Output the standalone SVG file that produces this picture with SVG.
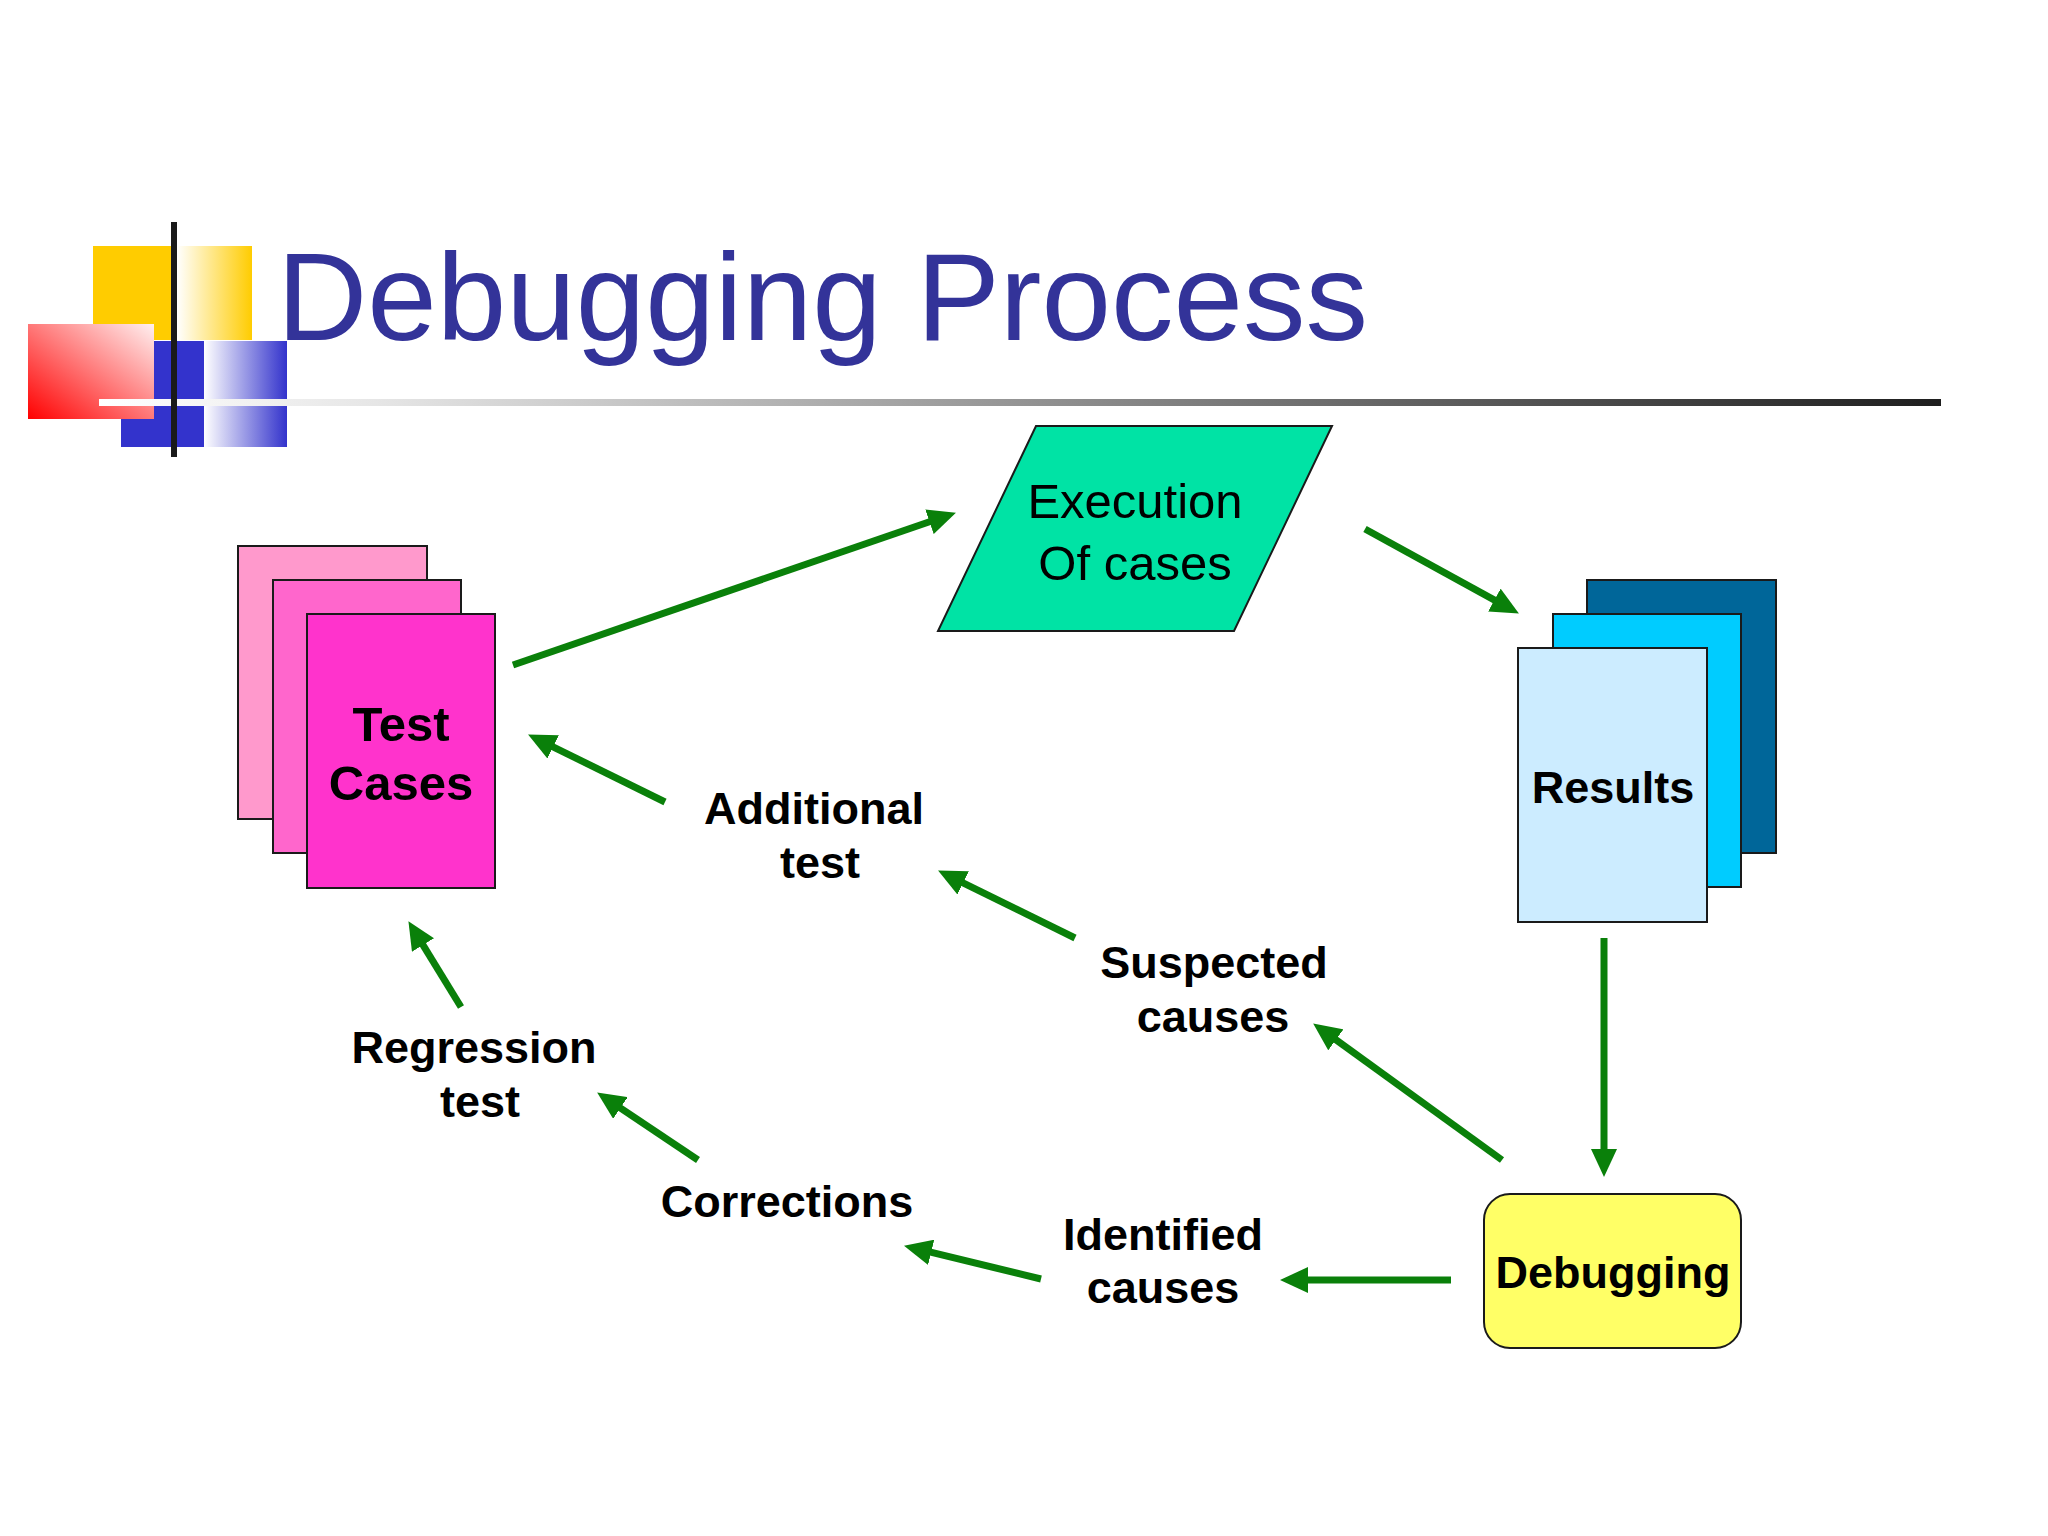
<svg xmlns="http://www.w3.org/2000/svg" width="2048" height="1536" viewBox="0 0 2048 1536">
<defs>
<linearGradient id="gYel" x1="0" y1="0" x2="1" y2="0"><stop offset="0" stop-color="#FFFFFF"/><stop offset="1" stop-color="#FFCC00"/></linearGradient>
<linearGradient id="gBlu" x1="0" y1="0" x2="1" y2="0"><stop offset="0" stop-color="#FFFFFF"/><stop offset="1" stop-color="#3333CC"/></linearGradient>
<linearGradient id="gRed" x1="0" y1="1" x2="1" y2="0"><stop offset="0" stop-color="#FF0000"/><stop offset="1" stop-color="#FFF0F0"/></linearGradient>
<linearGradient id="gLine" gradientUnits="userSpaceOnUse" x1="99" y1="0" x2="1941" y2="0"><stop offset="0" stop-color="#FFFFFF"/><stop offset="0.15" stop-color="#E6E6E6"/><stop offset="1" stop-color="#1E1E1E"/></linearGradient>
<marker id="ah" markerUnits="userSpaceOnUse" markerWidth="28" markerHeight="26" refX="7" refY="13" orient="auto"><path d="M0,0 L28,13 L0,26 z" fill="#0A800A"/></marker>
<style>
.lbl{font-family:"Liberation Sans",Arial,sans-serif;font-weight:bold;font-size:45px;fill:#000;text-anchor:middle}
.pg{stroke:#1A1A1A;stroke-width:2}
.cn{stroke:#0A800A;stroke-width:7;fill:none;marker-end:url(#ah)}
</style>
</defs>
<rect width="2048" height="1536" fill="#FFFFFF"/>
<g id="logo">
<rect x="93" y="246" width="84" height="94" fill="#FFCC00"/>
<rect x="177" y="246" width="75" height="94" fill="url(#gYel)"/>
<rect x="121" y="341" width="83" height="106" fill="#3333CC"/>
<rect x="204" y="341" width="83" height="106" fill="url(#gBlu)"/>
<rect x="28" y="324" width="126" height="95" fill="url(#gRed)"/>
<rect x="99" y="399" width="1842" height="7" fill="url(#gLine)"/>
<rect x="171" y="222" width="6" height="235" fill="#1A1A1A"/>
</g>
<g id="title"><text x="277" y="340" font-family="Liberation Sans, Arial, sans-serif" font-size="125" fill="#333399">Debugging Process</text></g>
<g id="test-cases">
<rect class="pg" x="238" y="546" width="189" height="273" fill="#FF99CC"/>
<rect class="pg" x="273" y="580" width="188" height="273" fill="#FF66CC"/>
<rect class="pg" x="307" y="614" width="188" height="274" fill="#FF33CC"/>
<text class="lbl" x="401" y="741" style="font-size:49px">Test</text>
<text class="lbl" x="401" y="800" style="font-size:49px">Cases</text>
</g>
<g id="execution">
<polygon class="pg" points="1036,426 1332,426 1234,631 938,631" fill="#00E3A5"/>
<text x="1135" y="518" font-family="Liberation Sans, Arial, sans-serif" font-size="49" text-anchor="middle" fill="#000">Execution</text>
<text x="1135" y="580" font-family="Liberation Sans, Arial, sans-serif" font-size="49" text-anchor="middle" fill="#000">Of cases</text>
</g>
<g id="results">
<rect class="pg" x="1587" y="580" width="189" height="273" fill="#006699"/>
<rect class="pg" x="1553" y="614" width="188" height="273" fill="#00CCFF"/>
<rect class="pg" x="1518" y="648" width="189" height="274" fill="#CCECFF"/>
<text class="lbl" x="1613" y="803">Results</text>
</g>
<g id="debugging">
<rect class="pg" x="1484" y="1194" width="257" height="154" rx="26" ry="26" fill="#FFFF66"/>
<text class="lbl" x="1613" y="1288">Debugging</text>
</g>
<g id="labels">
<text class="lbl" x="814" y="824">Additional</text>
<text class="lbl" x="820" y="878">test</text>
<text class="lbl" x="1214" y="978">Suspected</text>
<text class="lbl" x="1213" y="1032">causes</text>
<text class="lbl" x="474" y="1063">Regression</text>
<text class="lbl" x="480" y="1117">test</text>
<text class="lbl" x="787" y="1217">Corrections</text>
<text class="lbl" x="1163" y="1250">Identified</text>
<text class="lbl" x="1163" y="1303">causes</text>
</g>
<g id="connectors">
<line class="cn" x1="513" y1="665" x2="936.1" y2="519.5"/>
<line class="cn" x1="1365" y1="529" x2="1500.5" y2="603.4"/>
<line class="cn" x1="1604" y1="938" x2="1604" y2="1156"/>
<line class="cn" x1="1451" y1="1280" x2="1301" y2="1280"/>
<line class="cn" x1="1041" y1="1279" x2="924.4" y2="1250.7"/>
<line class="cn" x1="698" y1="1160" x2="614.6" y2="1104.1"/>
<line class="cn" x1="461" y1="1007" x2="419.4" y2="939.1"/>
<line class="cn" x1="1502" y1="1160" x2="1330.2" y2="1035.7"/>
<line class="cn" x1="1075" y1="938" x2="956.9" y2="879.8"/>
<line class="cn" x1="665" y1="802" x2="546.9" y2="743.8"/>
</g>
</svg>
